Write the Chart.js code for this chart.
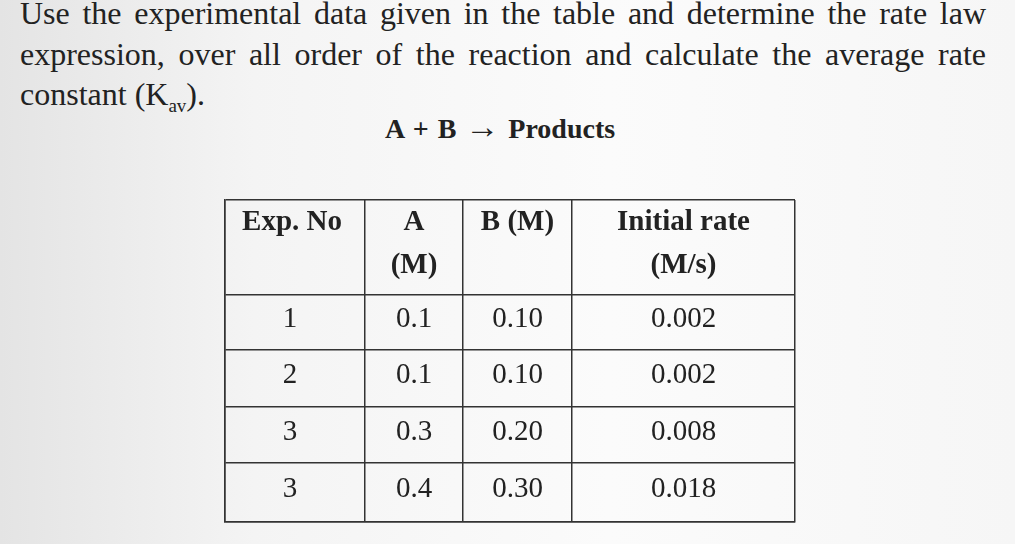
<!DOCTYPE html>
<html><head><meta charset="utf-8">
<script src="https://cdn.jsdelivr.net/npm/chart.js@4"></script>
<style>
html,body{margin:0;padding:0;width:1015px;height:544px;overflow:hidden;
background:linear-gradient(90deg,#e4e4e4 0%,#f4f4f4 25%,#fbfbfb 60%,#f6f6f6 100%);}
.l{position:absolute;left:20px;width:966px;font-family:"Liberation Serif",serif;font-size:32px;color:#222;text-align:justify;text-align-last:justify;white-space:nowrap;}
#eq{position:absolute;left:385px;top:113px;font-family:"Liberation Serif",serif;font-weight:bold;font-size:28px;color:#222;word-spacing:2px;}
canvas{position:absolute;left:0;top:0;}
</style></head><body>
<div class="l" style="top:-5px">Use the experimental data given in the table and determine the rate law</div>
<div class="l" style="top:36px">expression, over all order of the reaction and calculate the average rate</div>
<div class="l" style="top:76px;text-align-last:left">constant (K<sub style="font-size:19px">av</sub>).</div>
<div id="eq">A + B <span style="font-weight:normal;font-size:34px;line-height:20px">→</span> Products</div>
<canvas id="c" width="1015" height="544"></canvas>
<script>
const headers = [["Exp. No"], ["A", "(M)"], ["B (M)"], ["Initial rate", "(M/s)"]];
const expNo = ["1", "2", "3", "3"];
const concA = ["0.1", "0.1", "0.3", "0.4"];
const concB = ["0.10", "0.10", "0.20", "0.30"];
const initialRate = ["0.002", "0.002", "0.008", "0.018"];
const colEdges = [0, 140, 238, 347, 570];
const rowEdges = [0, 95, 150, 207, 263, 322];

const tablePlugin = {
  id: 'tableText',
  afterDraw(chart) {
    const ctx = chart.ctx, x = chart.scales.x, y = chart.scales.y;
    ctx.save();
    ctx.fillStyle = '#222';
    ctx.textAlign = 'center';
    ctx.textBaseline = 'middle';
    const cx = i => x.getPixelForValue((colEdges[i] + colEdges[i+1]) / 2);
    ctx.font = 'bold 29px "Liberation Serif", serif';
    headers.forEach((h, i) => {
      h.forEach((t, k) => {
        ctx.fillText(t, cx(i) + (i===0? -3:0), y.getPixelForValue(23 + k * 43));
      });
    });
    ctx.font = '29px "Liberation Serif", serif';
    const cols = [expNo, concA, concB, initialRate];
    for (let r = 0; r < expNo.length; r++) {
      const cy = y.getPixelForValue((rowEdges[r+1] + rowEdges[r+2]) / 2) - 3;
      cols.forEach((col, i) => ctx.fillText(col[r], cx(i) + (i===0?-5:0), cy));
    }
    ctx.restore();
  }
};

new Chart(document.getElementById('c'), {
  type: 'scatter',
  data: { datasets: [{ data: [] }] },
  options: {
    responsive: false, animation: false, events: [],
    layout: { padding: { left: 225, right: 220, top: 200, bottom: 22 } },
    plugins: { legend: { display: false }, tooltip: { enabled: false } },
    scales: {
      x: { type: 'linear', min: 0, max: 570,
        afterBuildTicks: s => { s.ticks = colEdges.map(v => ({ value: v })); },
        ticks: { display: false },
        grid: { color: '#333', lineWidth: 1.5, drawTicks: false },
        border: { color: '#333', width: 1.5 } },
      y: { type: 'linear', min: 0, max: 322, reverse: true,
        afterBuildTicks: s => { s.ticks = rowEdges.map(v => ({ value: v })); },
        ticks: { display: false },
        grid: { color: '#333', lineWidth: 1.5, drawTicks: false },
        border: { color: '#333', width: 1.5 } }
    }
  },
  plugins: [tablePlugin]
});
</script>
</body></html>
